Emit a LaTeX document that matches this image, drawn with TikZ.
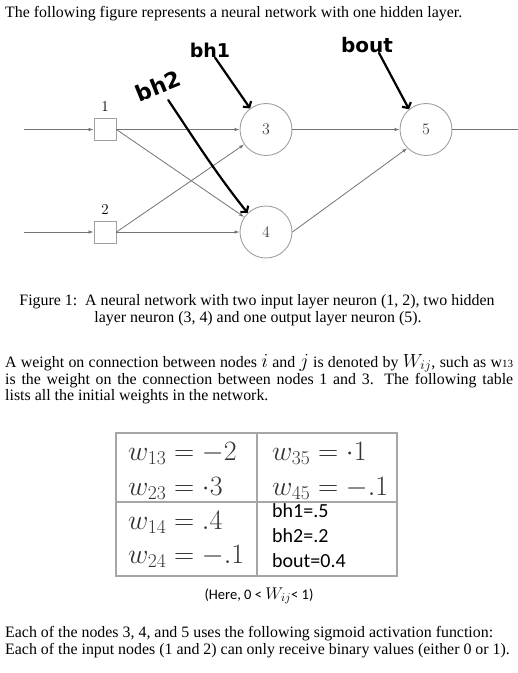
\RequirePackage{fix-cm}
\documentclass[tikz,border=0pt]{standalone}
\usepackage[no-math]{fontspec}
\setmainfont{Liberation Serif}
\newfontfamily\calfont{Carlito}
\newfontfamily\handfont{DejaVu Sans}
\usetikzlibrary{arrows.meta, positioning}

\begin{document}
\begin{tikzpicture}[
  x=1pt, y=-1pt,
  every node/.style={inner sep=0pt},
  body/.style={font=\fontsize{15.9}{19}\selectfont, anchor=base west},
  unit/.style={draw=gray!75, line width=0.9pt, circle, minimum size=52pt, font=\fontsize{16}{16}\selectfont, text=black!75},
  inbox/.style={draw=gray!75, line width=0.9pt, minimum size=22pt},
  conn/.style={-{Latex[length=5pt,width=3.5pt]}, gray!90!black, line width=0.8pt},
  hand/.style={font=\handfont\bfseries\fontsize{19}{19}\selectfont},
  note/.style={-{Straight Barb[length=4pt,width=10pt]}, line width=2.2pt, line cap=round},
  tline/.style={draw=gray!70, line width=1.6pt},
  wcell/.style={font=\fontsize{28}{30}\selectfont, anchor=base west, text=black!80},
  bcell/.style={font=\calfont\fontsize{20}{22}\selectfont, anchor=base west}
]
\useasboundingbox (0,0) rectangle (518,673);

% --- Tekst nad rysunkiem ---
\node[body] (intro) at (5,17) {The following figure represents a neural network with one hidden layer.};

% --- Warstwa wejsciowa ---
\coordinate (in1) at (24,129.5);
\coordinate (in2) at (24,232);
\node[inbox] (b1) at (105,129.5) {};
\node[inbox] (b2) at (105,232) {};
\node[above=6pt of b1, font=\fontsize{15}{15}\selectfont] (l1) {$1$};
\node[above=6pt of b2, font=\fontsize{15}{15}\selectfont] (l2) {$2$};

% --- Warstwa ukryta i wyjsciowa ---
\node[unit] (n3) at (266,129.5) {$3$};
\node[unit] (n4) at (266,232) {$4$};
\node[unit] (n5) at (426,129.5) {$5$};
\coordinate (out) at (518,129.5);

% --- Polaczenia ---
\draw[conn] (in1) -- (b1);
\draw[conn] (in2) -- (b2);
\draw[conn] (b1) -- (n3);
\draw[conn] (b1.east) -- (n4);
\draw[conn] (b2.east) -- (n3);
\draw[conn] (b2) -- (n4);
\draw[conn] (n3) -- (n5);
\draw[conn] (n4.east) -- (n5.225);
\draw[gray!90!black, line width=0.8pt] (n5) -- (out);

% --- Odrecznie dopisane biasy ---
\node[hand] (bh1) at (210,50) {bh1};
\node[hand, rotate=22, font=\handfont\bfseries\fontsize{22}{22}\selectfont] (bh2) at (158,86) {bh2};
\node[hand, font=\handfont\bfseries\fontsize{20}{20}\selectfont] (bout) at (367,45) {bout};
\draw[note] ([xshift=5pt]bh1.south) -- (n3.127);
\draw[note] ([xshift=12pt]bout.south) -- (n5.130);
\draw[note] ([shift={(7,6)}]bh2.south) .. controls (195,140) and (215,172) .. (n4.134);

% --- Podpis rysunku ---
\node[body, anchor=base] (cap1) at (257,305) {Figure 1:\ \ A neural network with two input layer neuron (1, 2), two hidden};
\node[body, anchor=base] (cap2) at (258,322) {layer neuron (3, 4) and one output layer neuron (5).};

% --- Akapit o wagach ---
\node[body] (par1) at (5,367) {\makebox[508pt][s]{A weight on connection between nodes {\fontsize{20}{20}\selectfont$i$} and {\fontsize{20}{20}\selectfont$j$} is denoted by {\fontsize{19}{19}\selectfont$W_{ij}$}, such as w{\fontsize{11}{11}\selectfont 13}}};
\node[body] (par2) at (5,384) {\makebox[508pt][s]{is the weight on the connection between nodes 1 and 3. The following table}};
\node[body] (par3) at (5,400) {lists all the initial weights in the network.};

% --- Tabela wag ---
\node[tline, minimum width=281pt, minimum height=143pt] (tbl) at (256.5,504.5) {};
\draw[tline] ([xshift=0.5pt]tbl.north) -- ([xshift=0.5pt]tbl.south);
\draw[tline] ([yshift=2.5pt]tbl.west) -- ([yshift=2.5pt]tbl.east);
\node[wcell] (w13) at (128,460) {$w_{13} = -2$};
\node[wcell] (w23) at (128,495) {$w_{23} = \mathord{\cdot}3$};
\node[wcell] (w14) at (128,529) {$w_{14} = .4$};
\node[wcell] (w24) at (128,563) {$w_{24} = -.1$};
\node[wcell] (w35) at (272,460) {$w_{35} = \mathord{\cdot}1$};
\node[wcell] (w45) at (272,495) {$w_{45} = -.1$};
\node[bcell] (bh1v) at (272,517) {bh1=.5};
\node[bcell] (bh2v) at (272,542) {bh2=.2};
\node[bcell] (boutv) at (272,567) {bout=0.4};
\node[font=\calfont\fontsize{14.5}{16}\selectfont, anchor=base] (here) at (259,599) {(Here, 0 < {\fontsize{17}{17}\selectfont$W_{ij}$}< 1)};

% --- Tekst pod tabela ---
\node[body] (act) at (5,637) {Each of the nodes 3, 4, and 5 uses the following sigmoid activation function:};
\node[body] (bin) at (5,654) {Each of the input nodes (1 and 2) can only receive binary values (either 0 or 1).};

\end{tikzpicture}
\end{document}
